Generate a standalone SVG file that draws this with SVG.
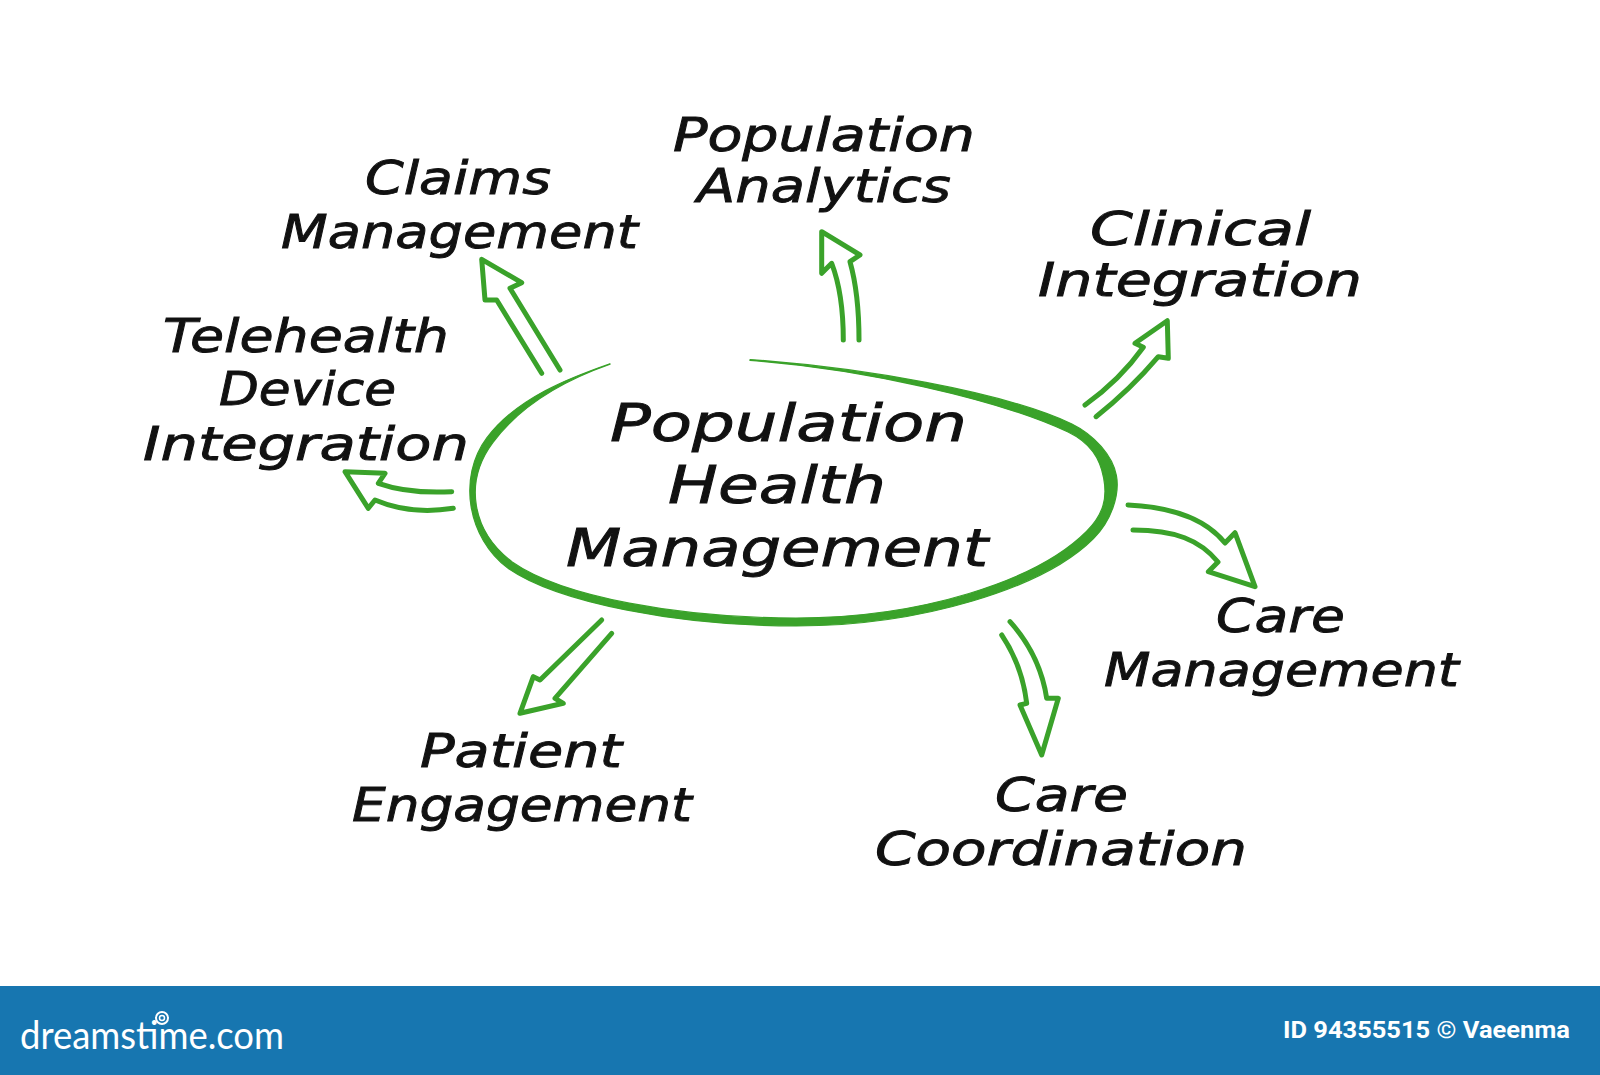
<svg xmlns="http://www.w3.org/2000/svg" width="1600" height="1075" viewBox="0 0 1600 1075">
<style>
.lbl{font-family:"DejaVu Sans","Noto Sans",sans-serif;font-style:italic;font-size:46px;fill:#111;stroke:#111;stroke-width:0.9}
.ctr{font-size:52px}
.arrow{fill:none;stroke:#3aa22a;stroke-width:5;stroke-linejoin:round;stroke-linecap:round}
.ring{fill:#3aa22a;stroke:#3aa22a;stroke-width:1.2;stroke-linejoin:round}
</style>
<rect width="1600" height="1075" fill="#ffffff"/>
<g id="hub">
<path class="ring" d="M750.04,359.5 C860.04,367.5 1001.92,390.93 1071.92,423.93 C1094.42,434.93 1112.63,455.78 1116.38,475.38 C1120.13,495.03 1111.04,521.04 1093.54,538.54 C1043.54,588.54 920,626 796,626 C680,626 557.76,603.08 507.76,568.08 C467.76,538.08 456.96,477.72 486.96,437.72 C516.96,397.72 569.9,377.72 609.9,363.72 L610.1,364.28 C570.1,378.28 523.04,402.28 493.04,442.28 C463.04,482.28 472.24,531.92 512.24,561.92 C562.24,596.92 680,618 796,618 C920,618 1036.46,581.46 1086.46,531.46 C1103.96,513.96 1107.37,497.47 1103.62,477.82 C1099.87,458.22 1090.58,443.07 1068.08,432.07 C998.08,399.07 859.96,368.5 749.96,360.5 Z"/>
<text class="lbl ctr" x="610" y="441" textLength="357" lengthAdjust="spacingAndGlyphs">Population</text>
<text class="lbl ctr" x="668" y="503" textLength="218" lengthAdjust="spacingAndGlyphs">Health</text>
<text class="lbl ctr" x="566" y="566" textLength="422" lengthAdjust="spacingAndGlyphs">Management</text>
</g>
<g id="connectors">
<path class="arrow" d="M541.7,373.3 L496.7,300 L485,300 L481.7,259.3 L521.7,282.7 L510,288.3 L560,370"/>
<path class="arrow" d="M843.3,340 C843.3,310 840,285 831.7,263.3 L821.7,273.3 L821.7,231.7 L860,255 L850,261.7 C856,283 859,310 859,340"/>
<path class="arrow" d="M1085,405 Q1120,380 1143.3,347.3 L1135,343.3 L1167.3,320.7 L1168.3,358.3 L1158.3,356.7 Q1130,390 1096,416.7"/>
<path class="arrow" d="M1128,505 C1170,507 1205,518 1225,543 L1235,532.7 L1255,586.7 L1208.3,571.7 L1218,562 C1200,540 1175,530 1133,530"/>
<path class="arrow" d="M1001.7,635 Q1022,665 1026.7,703.3 L1020,705 L1041.7,755 L1058.3,698.3 L1046.7,698.3 Q1040,655 1010,621.7"/>
<path class="arrow" d="M601.7,620 L540,680 L533.3,676.7 L520,713.3 L563.3,703.3 L555,698.3 L611.7,633.3"/>
<path class="arrow" d="M451.7,491.7 C427,493 403,492 378.3,483.3 L385,473.3 L345,471.7 L368.3,508.3 L375,500 C403,512 430,512 453.3,508.3"/>
</g>
<g id="n-claims"><text class="lbl" x="365" y="194" textLength="186" lengthAdjust="spacingAndGlyphs">Claims</text><text class="lbl" x="281" y="248" textLength="357" lengthAdjust="spacingAndGlyphs">Management</text></g>
<g id="n-analytics"><text class="lbl" x="673" y="151" textLength="302" lengthAdjust="spacingAndGlyphs">Population</text><text class="lbl" x="697" y="202" textLength="254" lengthAdjust="spacingAndGlyphs">Analytics</text></g>
<g id="n-clinical"><text class="lbl" x="1090" y="245" textLength="221" lengthAdjust="spacingAndGlyphs">Clinical</text><text class="lbl" x="1038" y="296" textLength="324" lengthAdjust="spacingAndGlyphs">Integration</text></g>
<g id="n-telehealth"><text class="lbl" x="163" y="352" textLength="286" lengthAdjust="spacingAndGlyphs">Telehealth</text><text class="lbl" x="219" y="405" textLength="177" lengthAdjust="spacingAndGlyphs">Device</text><text class="lbl" x="143" y="460" textLength="326" lengthAdjust="spacingAndGlyphs">Integration</text></g>
<g id="n-caremgmt"><text class="lbl" x="1216" y="632" textLength="129" lengthAdjust="spacingAndGlyphs">Care</text><text class="lbl" x="1104" y="686" textLength="355" lengthAdjust="spacingAndGlyphs">Management</text></g>
<g id="n-patient"><text class="lbl" x="420" y="767" textLength="202" lengthAdjust="spacingAndGlyphs">Patient</text><text class="lbl" x="352" y="821" textLength="340" lengthAdjust="spacingAndGlyphs">Engagement</text></g>
<g id="n-carecoord"><text class="lbl" x="995" y="811" textLength="133" lengthAdjust="spacingAndGlyphs">Care</text><text class="lbl" x="875" y="865" textLength="372" lengthAdjust="spacingAndGlyphs">Coordination</text></g>
<g id="footer">
<rect x="0" y="986" width="1600" height="89" fill="#1776b0"/>
<text x="20" y="1049" font-family="Lato,'DejaVu Sans',sans-serif" font-size="38" fill="#ffffff" textLength="264" lengthAdjust="spacingAndGlyphs">dreamstime.com</text>
<circle cx="162" cy="1018" r="6" fill="none" stroke="#ffffff" stroke-width="2"/>
<circle cx="162" cy="1018" r="2.5" fill="none" stroke="#ffffff" stroke-width="1.5"/>
<text x="1283" y="1038" font-family="Roboto,'Liberation Sans',sans-serif" font-weight="bold" font-size="24" fill="#ffffff" textLength="287" lengthAdjust="spacingAndGlyphs">ID 94355515 © Vaeenma</text>
</g>
</svg>
